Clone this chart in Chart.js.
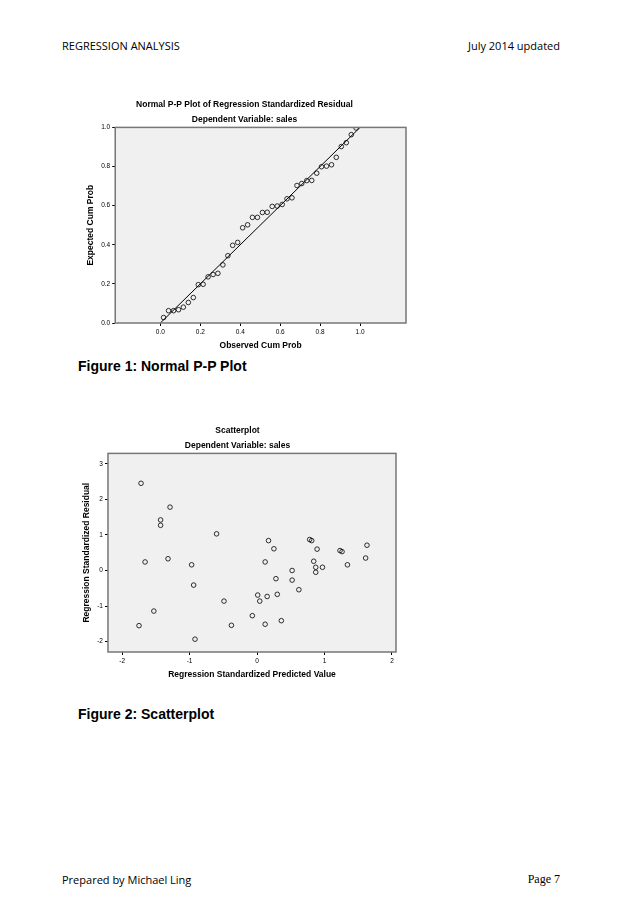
<!DOCTYPE html>
<html><head><meta charset="utf-8">
<script src="https://cdn.jsdelivr.net/npm/chart.js@4.4.1/dist/chart.umd.min.js"></script>
<style>
body{margin:0;width:638px;height:902px;background:#fff;position:relative;font-family:"Open Sans",sans-serif;}
.hd{position:absolute;font-size:11px;color:#000;}
.cap{position:absolute;left:78px;font:bold 14px "Liberation Sans",Arial,sans-serif;}
.box{position:absolute;}
</style></head><body>
<div class="hd" style="left:62px;top:38px">REGRESSION ANALYSIS</div>
<div class="hd" style="right:78px;top:38px">July 2014 updated</div>
<div class="box" style="left:76px;top:94px;width:336px;height:262px"><canvas id="pp"></canvas></div>
<div class="cap" style="top:358px">Figure 1: Normal P-P Plot</div>
<div class="box" style="left:76px;top:420px;width:336px;height:265px"><canvas id="sc"></canvas></div>
<div class="cap" style="top:706px">Figure 2: Scatterplot</div>
<div class="hd" style="left:62px;top:872px">Prepared by Michael Ling</div>
<div class="hd" style="right:78px;top:872px;font-family:'Liberation Serif',serif;font-size:12px">Page 7</div>
<script>
// P-P plot data
var ppObserved = [0.016,0.041,0.066,0.091,0.115,0.140,0.165,0.190,0.214,0.239,0.264,0.288,0.313,0.338,0.362,0.387,0.412,0.437,0.461,0.486,0.511,0.535,0.560,0.585,0.610,0.634,0.659,0.684,0.708,0.733,0.758,0.783,0.807,0.832,0.857,0.881,0.906,0.931,0.956,0.980];
var ppExpected = [0.028,0.063,0.063,0.068,0.081,0.105,0.130,0.196,0.198,0.236,0.248,0.254,0.297,0.344,0.397,0.412,0.487,0.502,0.540,0.540,0.565,0.566,0.596,0.598,0.606,0.635,0.640,0.703,0.713,0.728,0.729,0.766,0.799,0.802,0.809,0.847,0.902,0.922,0.963,0.997];
var ppTicks = [0, 0.2, 0.4, 0.6, 0.8, 1.0];
// scatterplot data
var predicted = [-1.72,-1.29,-1.43,-1.43,-0.60,-1.66,-1.32,-0.97,-0.94,-0.49,-1.53,-1.75,-0.92,-0.38,-0.07,0.12,0.36,0.01,0.04,0.15,0.30,0.62,0.28,0.52,0.52,0.12,0.17,0.25,0.78,0.81,0.89,0.84,0.87,0.87,0.97,1.23,1.26,1.34,1.61,1.63];
var residual = [2.45,1.78,1.42,1.27,1.03,0.24,0.33,0.16,-0.41,-0.86,-1.14,-1.55,-1.93,-1.54,-1.27,-1.51,-1.41,-0.69,-0.86,-0.73,-0.67,-0.54,-0.23,-0.27,0.00,0.24,0.84,0.61,0.87,0.84,0.60,0.26,0.09,-0.05,0.09,0.56,0.53,0.16,0.35,0.71];
var scXTicks = [-2,-1,0,1,2];
var scYTicks = [-2,-1,0,1,2,3];

var FONT = '"Liberation Sans", Arial, sans-serif';
Chart.defaults.font.family = FONT;
Chart.defaults.color = '#000';

var bgPlugin = {
  id: 'plotbg',
  beforeDraw: function (c) {
    var a = c.chartArea, x = c.ctx;
    x.save(); x.fillStyle = '#f0f0f0'; x.fillRect(a.left, a.top, a.right - a.left, a.bottom - a.top); x.restore();
  },
  afterDraw: function (c) {
    var a = c.chartArea, x = c.ctx;
    x.save(); x.strokeStyle = '#777'; x.lineWidth = 1.5; x.strokeRect(a.left, a.top, a.right - a.left, a.bottom - a.top); x.restore();
  }
};

function axis(min, max, ticks, title, fmt) {
  return {
    type: 'linear', min: min, max: max,
    afterBuildTicks: function (s) { s.ticks = ticks.map(function (v) { return { value: v }; }); },
    border: { display: false },
    grid: { drawOnChartArea: false, drawTicks: true, tickLength: 3, color: '#000' },
    ticks: { font: { size: 6.5 }, padding: 2, callback: fmt },
    title: { display: true, text: title, font: { size: 8.5, weight: 'bold' }, padding: 3 }
  };
}

function opts(title, sub, xs, ys, pad) {
  return {
    responsive: true, maintainAspectRatio: false, animation: false,
    layout: { padding: pad },
    plugins: {
      legend: { display: false }, tooltip: { enabled: false },
      title: { display: true, text: title, font: { size: 8.5, weight: 'bold' }, padding: { top: 4, bottom: 4 } },
      subtitle: { display: true, text: sub, font: { size: 8.5, weight: 'bold' }, color: '#000', padding: { bottom: 3 } }
    },
    scales: { x: xs, y: ys }
  };
}

var pt = { pointRadius: 2.3, pointBorderWidth: 0.8, pointBorderColor: '#000', pointBackgroundColor: 'rgba(0,0,0,0)', showLine: false };

new Chart(document.getElementById('pp'), {
  type: 'scatter',
  data: { datasets: [
    Object.assign({ data: ppObserved.map(function (v, i) { return { x: v, y: ppExpected[i] }; }) }, pt),
    { data: [{ x: 0, y: 0 }, { x: 1, y: 1 }], showLine: true, borderColor: '#000', borderWidth: 1, pointRadius: 0 }
  ] },
  options: opts('Normal P-P Plot of Regression Standardized Residual', 'Dependent Variable: sales',
    axis(-0.226, 1.23, ppTicks, 'Observed Cum Prob', function (v) { return v.toFixed(1); }),
    axis(0, 1, ppTicks, 'Expected Cum Prob', function (v) { return v.toFixed(1); }),
    { left: 7, right: 6, top: 2, bottom: 2 }),
  plugins: [bgPlugin]
});

new Chart(document.getElementById('sc'), {
  type: 'scatter',
  data: { datasets: [
    Object.assign({ data: predicted.map(function (v, i) { return { x: v, y: residual[i] }; }) }, pt)
  ] },
  options: opts('Scatterplot', 'Dependent Variable: sales',
    axis(-2.21, 2.06, scXTicks, 'Regression Standardized Predicted Value', function (v) { return v; }),
    axis(-2.29, 3.29, scYTicks, 'Regression Standardized Residual', function (v) { return v; }),
    { left: 3, right: 16, top: 2, bottom: 2 }),
  plugins: [bgPlugin]
});
</script>
</body></html>
